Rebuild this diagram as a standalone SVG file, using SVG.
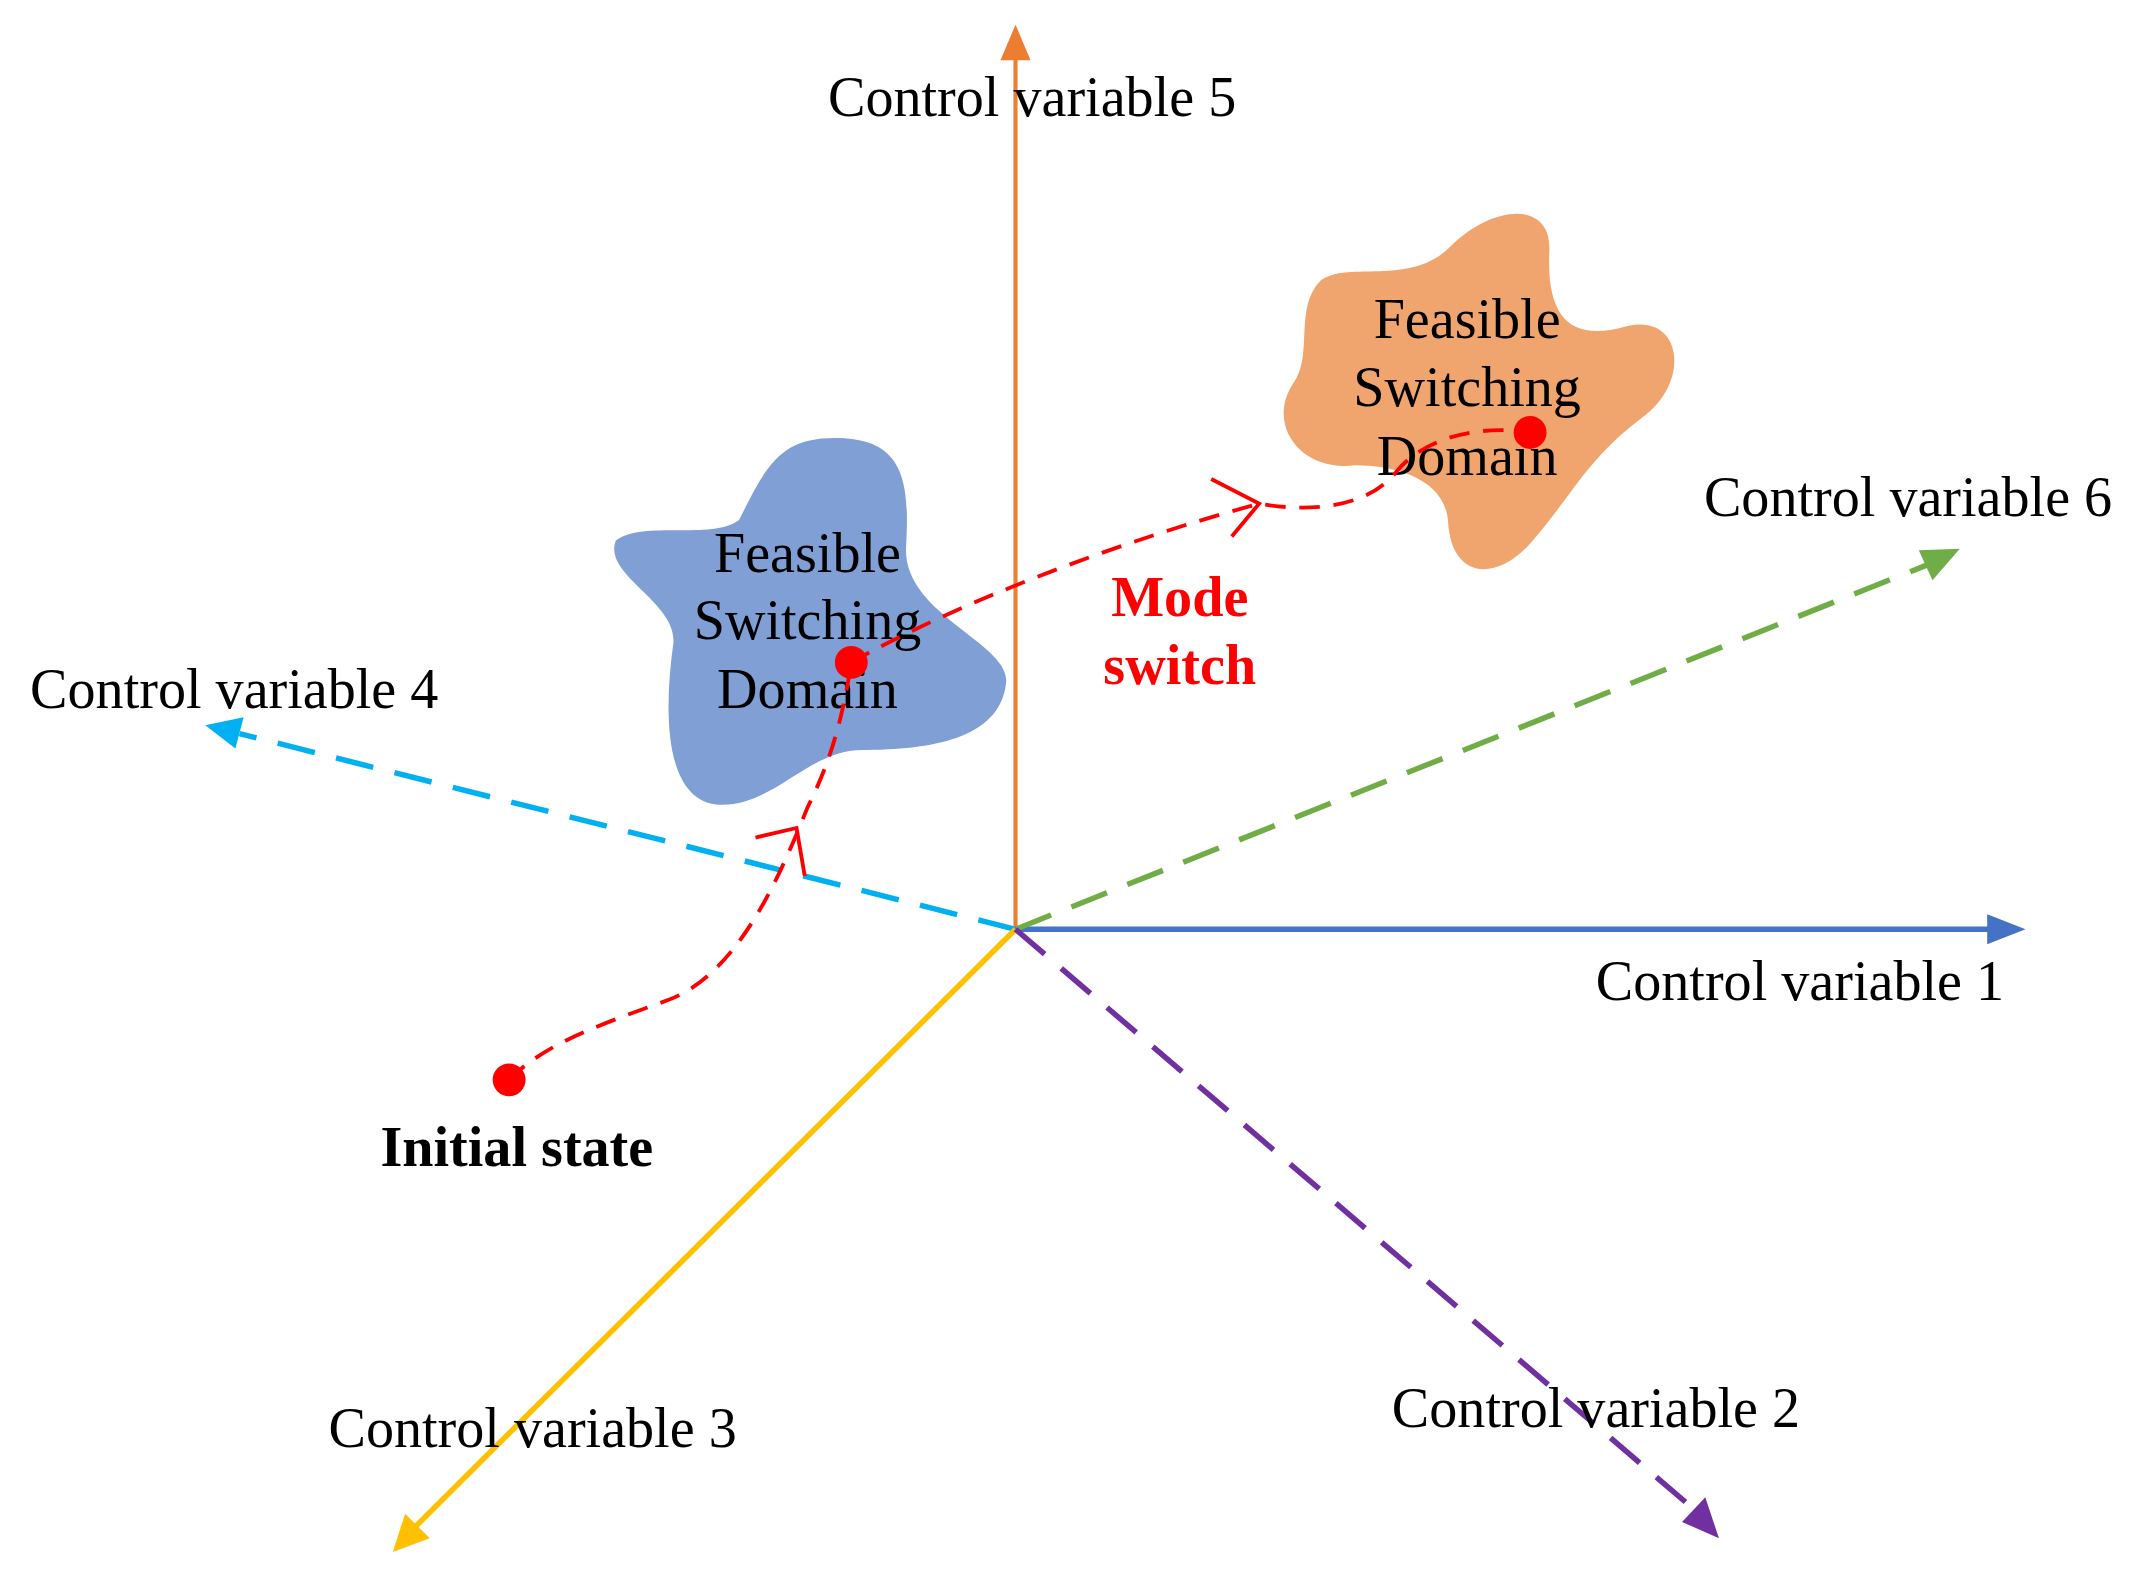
<svg xmlns="http://www.w3.org/2000/svg" width="2135" height="1577" viewBox="0 0 2135 1577">
<style>
text{font-family:"Liberation Serif","Times New Roman",serif;font-size:41px;fill:#000}
.b{font-weight:bold}
.r{fill:#f00;font-weight:bold}
.c{text-anchor:middle}
.tr{fill:none;stroke:#f00;stroke-width:2.8;stroke-dasharray:15 10}
.ch{fill:none;stroke:#f00;stroke-width:2.8}
</style>
<rect width="2135" height="1577" fill="#fff"/>
<g transform="scale(1.3686)">
<g id="domain1">
<path d="M450,395 C470,380 520,395 540,380 C560,340 570,320 610,320 C660,320 665,350 662,400 C660,450 740,470 735,500 C730,540 680,548 630,548 C590,548 565,590 525,588 C485,585 485,520 492,470 C495,440 440,420 450,395 Z" fill="#7F9FD5"/>
<text class="c" x="590" y="418">Feasible</text>
<text class="c" x="590" y="467">Switching</text>
<text class="c" x="590" y="517">Domain</text>
</g>
<g id="domain2">
<path d="M965,205 C985,190 1030,210 1060,180 C1090,150 1135,145 1132,185 C1130,235 1150,250 1190,238 C1230,230 1235,280 1200,305 C1160,335 1150,360 1120,395 C1095,425 1060,425 1058,380 C1055,350 1020,340 990,340 C950,345 925,310 945,280 C960,260 945,225 965,205 Z" fill="#F0A46E"/>
<text class="c" x="1072" y="247">Feasible</text>
<text class="c" x="1072" y="297">Switching</text>
<text class="c" x="1072" y="347">Domain</text>
</g>
<g id="connectors">
<line x1="742" y1="679" x2="742" y2="40" stroke="#ED7D31" stroke-width="3"/>
<polygon points="742,18 731,44 753,44" fill="#ED7D31"/>
<line x1="742" y1="679" x2="1455" y2="679" stroke="#4472C4" stroke-width="4"/>
<polygon points="1480,679 1452,668 1452,690" fill="#4472C4"/>
<line x1="742" y1="679" x2="1410" y2="412" stroke="#70AD47" stroke-width="4" stroke-dasharray="28 16"/>
<polygon points="1432,401 1402,402 1412,424" fill="#70AD47"/>
<line x1="742" y1="679" x2="175" y2="536" stroke="#00B0F0" stroke-width="4" stroke-dasharray="28 16"/>
<polygon points="150,530 178,524 172,547" fill="#00B0F0"/>
<line x1="742" y1="679" x2="302" y2="1117" stroke="#FFC000" stroke-width="4"/>
<polygon points="287,1134 296,1106 314,1124" fill="#FFC000"/>
<line x1="742" y1="679" x2="1238" y2="1103" stroke="#7030A0" stroke-width="4" stroke-dasharray="28 16"/>
<polygon points="1256,1124 1229,1112 1246,1094" fill="#7030A0"/>
<path class="tr" d="M372,789 C400,760 450,745 490,730 C540,710 570,640 590,590 C605,560 615,530 622,484"/>
<polyline class="ch" points="552,612 582,605 588,640"/>
<path class="tr" d="M622,484 C700,440 820,395 920,368 C960,375 1000,370 1020,345 C1040,320 1080,310 1118,316"/>
<polyline class="ch" points="885,350 920,368 900,392"/>
</g>
<g id="points">
<circle cx="372" cy="789" r="12" fill="#f00"/>
<circle cx="622" cy="484" r="12" fill="#f00"/>
<circle cx="1118" cy="316" r="12" fill="#f00"/>
</g>
<g id="labels">
<text x="605" y="85">Control variable 5</text>
<text x="1245" y="377">Control variable 6</text>
<text x="22" y="517">Control variable 4</text>
<text x="1166" y="731">Control variable 1</text>
<text x="1017" y="1043">Control variable 2</text>
<text x="240" y="1057">Control variable 3</text>
<text class="b" x="278" y="852">Initial state</text>
<text class="r c" x="862" y="450">Mode</text>
<text class="r c" x="862" y="500">switch</text>
</g>
</g>
</svg>
